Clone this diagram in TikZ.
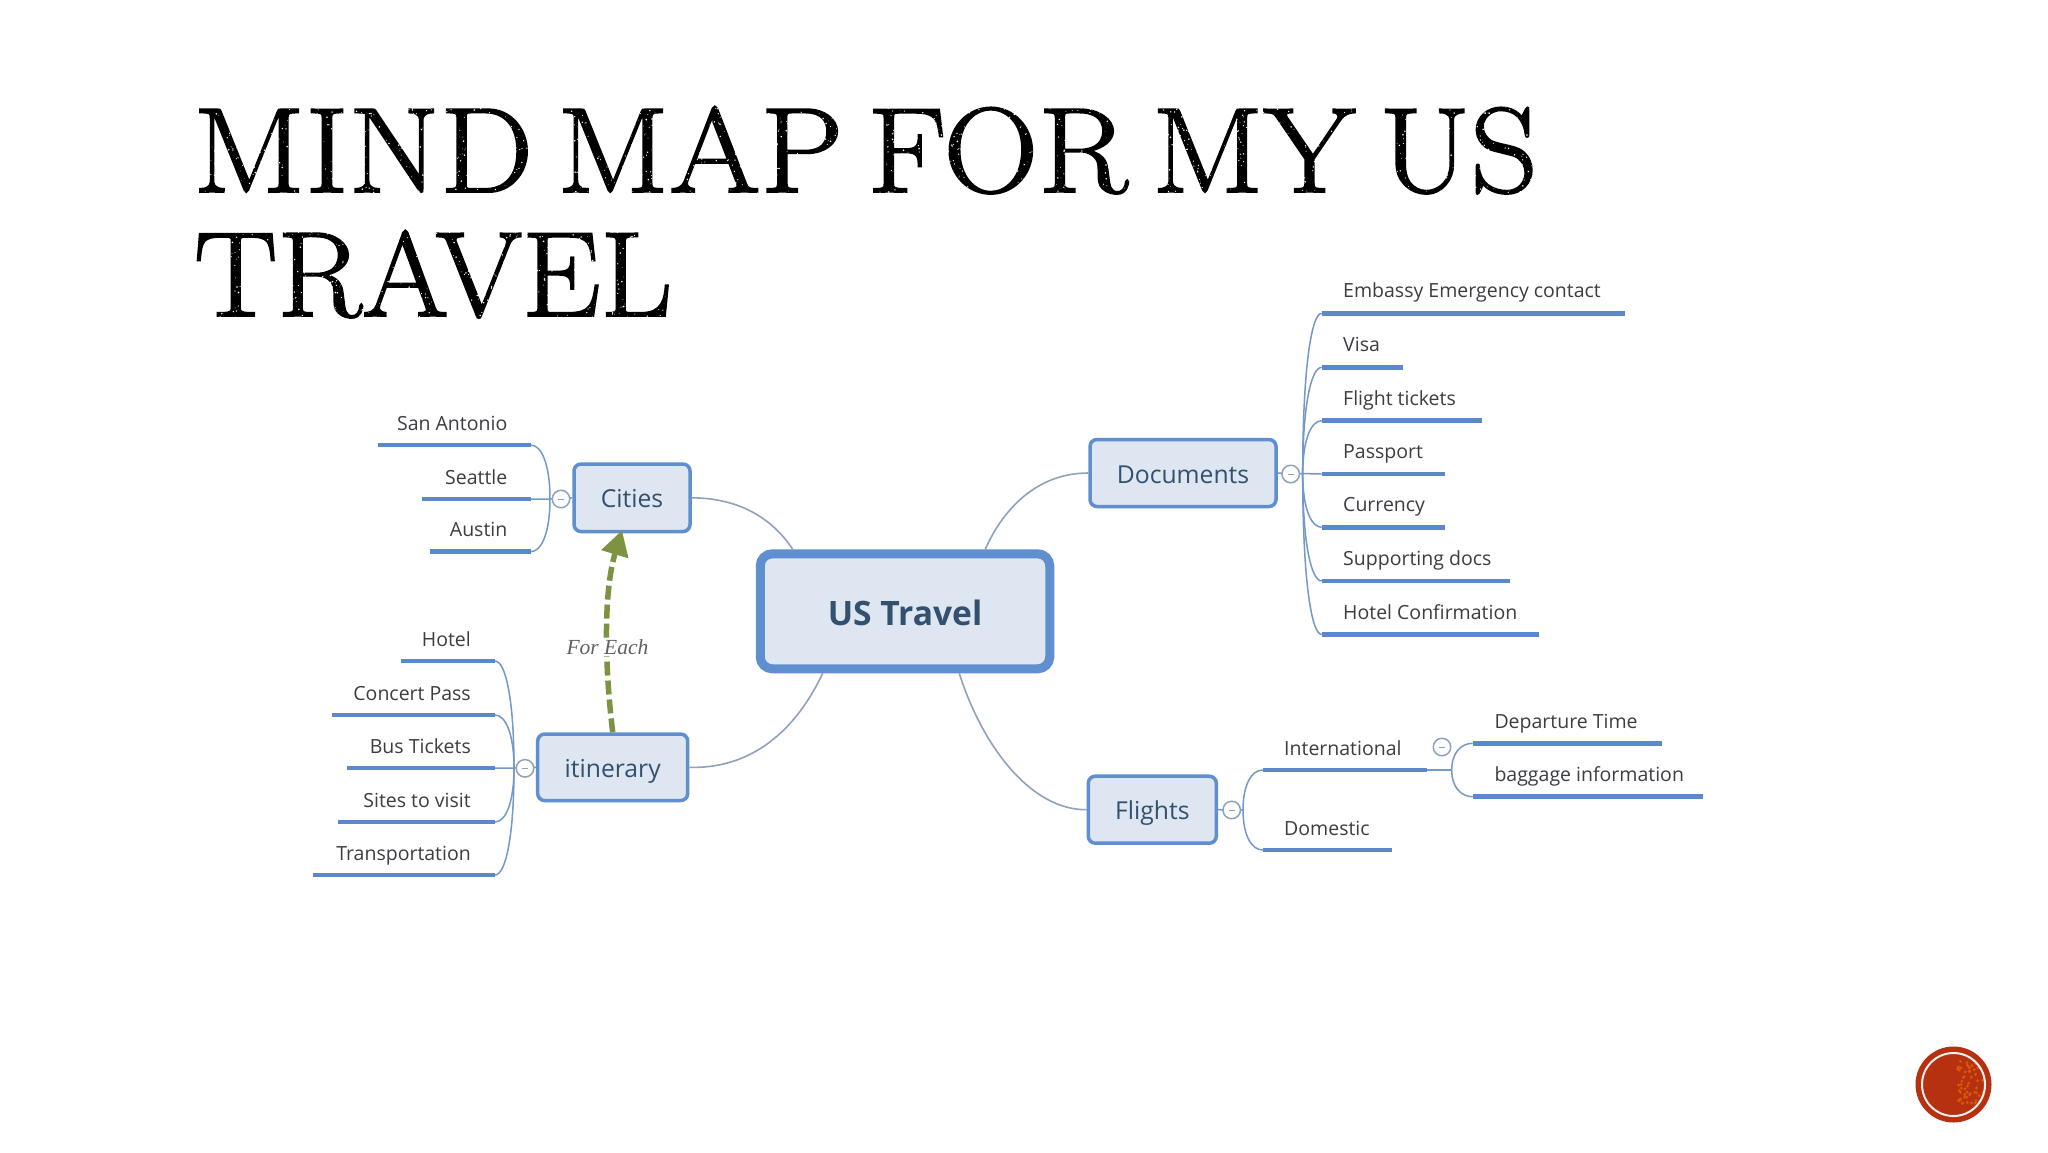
\documentclass[tikz,border=0pt]{standalone}
\usepackage{fontspec}
\setmainfont{Latin Modern Roman}
\newfontfamily\osans{Open Sans}
\newfontfamily\titleA[FakeStretch=1.09,FakeBold=1.6,WordSpace=0.6]{Latin Modern Roman}
\newfontfamily\titleB[FakeStretch=1.03,FakeBold=1.6]{Latin Modern Roman}
\newfontfamily\noteserif{Liberation Serif}
\usetikzlibrary{arrows.meta,calc}
\definecolor{boxfill}{HTML}{DDE6F1}
\definecolor{boxline}{HTML}{5F8FCF}
\definecolor{boxtext}{HTML}{34506F}
\definecolor{leafline}{HTML}{5A88C8}
\definecolor{fanline}{HTML}{7498C8}
\definecolor{mainline}{HTML}{8FA2BC}
\definecolor{leaftext}{HTML}{3A3D42}
\definecolor{olive}{HTML}{7C9442}
\definecolor{badge}{HTML}{B5310F}
\tikzset{
  titletext/.style={anchor=base west,inner sep=0pt,text=black},
  topicbox/.style={draw=boxline,fill=boxfill,line width=3.5pt,rounded corners=7pt,inner sep=0pt,text=boxtext,text height=20pt,text depth=0pt,font=\osans\fontsize{24.7}{28}\selectfont},
  mainbox/.style={topicbox,line width=9pt,rounded corners=12pt,text height=27.4pt,font=\osans\bfseries\fontsize{33.6}{38}\selectfont},
  leaflabel/.style={inner sep=0pt,text=leaftext,font=\osans\fontsize{19.5}{24}\selectfont},
  leafrule/.style={draw=leafline,line width=4.5pt},
  fan/.style={draw=fanline,line width=1.5pt},
  branch/.style={draw=mainline,line width=1.6pt},
  toggle/.style={circle,draw=mainline,fill=white,line width=1.5pt,minimum size=17.5pt,inner sep=0pt},
  toggledash/.style={draw=mainline,line width=1pt}
}
% name, x start, x end, y, text, text x, baseline offset, anchor
\newcommand{\leafitem}[8]{%
  \coordinate (#1s) at (#2,#4);
  \coordinate (#1e) at (#3,#4);
  \draw[leafrule] (#1s) -- (#1e);
  \node[leaflabel,anchor=#8] (#1) at (#6,#4-#7) {#5};
}
% curve from joint to a line end
\newcommand{\fancurve}[2]{%
  \draw[fan] (#1) .. controls ($(#1|-#2)!0.35!(#1)$) and ($(#1|-#2)!0.45!(#2)$) .. (#2);
}
\newcommand{\togglemark}[2]{%
  \node[toggle] (#1) at #2 {};
  \draw[toggledash] ($(#1.center)+(-3,0)$) -- ($(#1.center)+(3,0)$);
}
\begin{document}
\begin{tikzpicture}[x=1pt,y=-1pt]
\useasboundingbox[fill=white] (0,0) rectangle (2048,1152);

% title
\node[titletext,font=\titleA\fontsize{121}{124}\selectfont] (t1) at (193,192) {MIND MAP FOR MY US};
\node[titletext,font=\titleB\fontsize{121}{124}\selectfont] (t2) at (194,316) {TRAVEL};
% worn print grain on the title
\pgfmathsetseed{11}
\foreach \i in {1,...,2200}{
  \pgfmathsetmacro{\gx}{197+rnd*1345}
  \pgfmathsetmacro{\gy}{106+rnd*88}
  \pgfmathsetmacro{\gr}{0.3+rnd*0.6}
  \fill[white] (\gx,\gy) circle (\gr pt);
}
\foreach \i in {1,...,750}{
  \pgfmathsetmacro{\gx}{197+rnd*480}
  \pgfmathsetmacro{\gy}{230+rnd*88}
  \pgfmathsetmacro{\gr}{0.3+rnd*0.6}
  \fill[white] (\gx,\gy) circle (\gr pt);
}

% boxes
\node[mainbox,minimum width=289.5pt,minimum height=115pt] (main) at (905,611.3) {US Travel};
\node[topicbox,minimum width=116pt,minimum height=67.5pt] (cities) at (632,497.8) {Cities};
\node[topicbox,minimum width=150pt,minimum height=66.5pt] (itin) at (612.7,767.3) {itinerary};
\node[topicbox,minimum width=186pt,minimum height=67pt] (docs) at (1183,473) {Documents};
\node[topicbox,minimum width=128pt,minimum height=67pt] (flights) at (1152.3,809.7) {Flights};

% branches to the central box
\draw[branch] (cities.east) .. controls (735,498) and (770,515) .. ($(main.north west)+(37,0)$);
\draw[branch] (itin.east) .. controls (745,769) and (792,738) .. ($(main.south west)+(67,0)$);
\draw[branch] (docs.west) .. controls (1040,473) and (1005,505) .. ($(main.north east)+(-69,0)$);
\draw[branch] (flights.west) .. controls (1030,810) and (982,745) .. ($(main.south east)+(-95,0)$);

% Cities leaves
\coordinate (jc) at (550,499);
\leafitem{sa}{377.6}{530.7}{445}{San Antonio}{507.5}{15}{base east}
\leafitem{se}{422}{530.7}{499}{Seattle}{507.5}{15}{base east}
\leafitem{au}{430}{530.7}{551.7}{Austin}{507.5}{15}{base east}
\fancurve{jc}{sae}
\fancurve{jc}{aue}
\draw[fan] (see) -- (jc) -- (cities.west);
\togglemark{tc}{(561,499)}

% itinerary leaves
\coordinate (ji) at (514,768);
\leafitem{ho}{401}{495}{661}{Hotel}{471}{15}{base east}
\leafitem{co}{332}{495}{715}{Concert Pass}{471}{15}{base east}
\leafitem{bu}{347}{495}{768}{Bus Tickets}{471}{15}{base east}
\leafitem{si}{338}{495}{822}{Sites to visit}{471}{15}{base east}
\leafitem{tr}{313}{495}{875}{Transportation}{471}{15}{base east}
\fancurve{ji}{hoe}
\fancurve{ji}{coe}
\fancurve{ji}{sie}
\fancurve{ji}{tre}
\draw[fan] (bue) -- (ji) -- (itin.west);
\togglemark{ti}{(525,768.3)}

% Documents leaves
\coordinate (jd) at (1302.7,474);
\leafitem{em}{1321.7}{1625}{313.3}{Embassy Emergency contact}{1343}{15.5}{base west}
\leafitem{vi}{1321.7}{1403}{367.3}{Visa}{1343}{15.5}{base west}
\leafitem{fl}{1321.7}{1481.7}{420.7}{Flight tickets}{1343}{15.5}{base west}
\leafitem{pa}{1321.7}{1445}{474}{Passport}{1343}{15.5}{base west}
\leafitem{cu}{1321.7}{1445}{527.3}{Currency}{1343}{15.5}{base west}
\leafitem{su}{1321.7}{1510}{581}{Supporting docs}{1343}{15.5}{base west}
\leafitem{hc}{1321.7}{1539}{634.5}{Hotel Confirmation}{1343}{15.5}{base west}
\fancurve{jd}{ems}
\fancurve{jd}{vis}
\fancurve{jd}{fls}
\fancurve{jd}{cus}
\fancurve{jd}{sus}
\fancurve{jd}{hcs}
\draw[fan] (docs.east) -- (pas);
\togglemark{td}{(1290.7,474)}

% Flights leaves
\coordinate (jf) at (1243,810);
\leafitem{in}{1262.7}{1426.7}{770}{International}{1284}{15}{base west}
\leafitem{dm}{1262.7}{1391.7}{850}{Domestic}{1284}{15}{base west}
\fancurve{jf}{ins}
\fancurve{jf}{dms}
\draw[fan] (flights.east) -- (jf);
\togglemark{tf}{(1231.7,810)}
\coordinate (jn) at (1451.7,770);
\leafitem{de}{1472.7}{1661.7}{743.3}{Departure Time}{1494.3}{15}{base west}
\leafitem{ba}{1472.7}{1703.3}{796.7}{baggage information}{1494.3}{15}{base west}
\draw[fan] (ine) -- (jn);
\fancurve{jn}{des}
\fancurve{jn}{bas}
\togglemark{tn}{(1442,747)}

% relationship arrow
\draw[olive,line width=5.5pt,dash pattern=on 14pt off 5pt,-{Triangle[length=25pt,width=27pt]}]
  (itin.north) .. controls (604,660) and (604,590) .. ($(cities.south)+(-10,-3)$);
\node[fill=white,inner sep=1pt,text=black!62,font=\noteserif\itshape\fontsize{21.5}{24}\selectfont] (fe) at (607.5,647) {For Each};

% badge
\node[circle,fill=badge,minimum size=76pt,inner sep=0pt] (badgeo) at (1953.5,1084.5) {};
\begin{scope}
  \clip (badgeo.center) circle (31pt);
  \pgfmathsetseed{7}
  \foreach \i in {1,...,60}{
    \pgfmathsetmacro{\dx}{4+rnd*28}
    \pgfmathsetmacro{\dy}{-24+rnd*44}
    \fill[orange!50!badge] ($(badgeo.center)+(\dx,\dy)$) circle (1.6pt);
  }
\end{scope}
\node[circle,draw=white!92!badge,line width=2pt,minimum size=63pt,inner sep=0pt] (badgei) at (badgeo.center) {};
\end{tikzpicture}
\end{document}
